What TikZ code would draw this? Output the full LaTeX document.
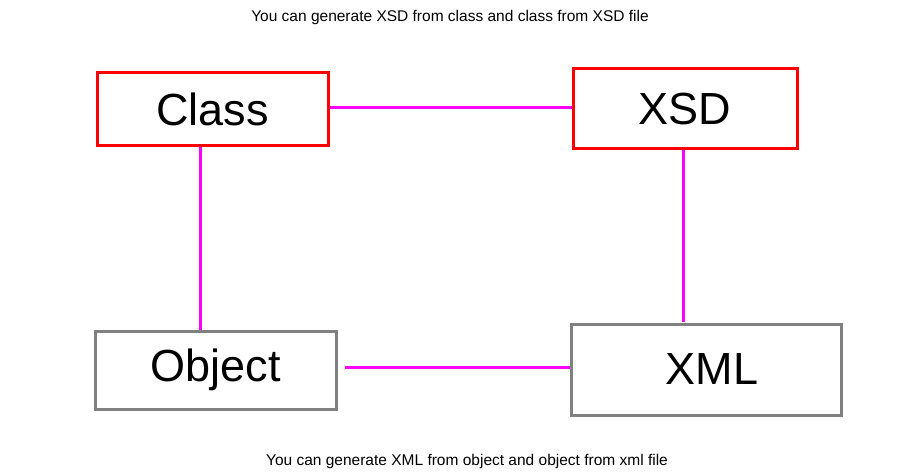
\documentclass[tikz,border=0pt]{standalone}
\usepackage{fontspec}
\setmainfont{Liberation Sans}
\definecolor{lnk}{RGB}{255,0,255}
\definecolor{redb}{RGB}{255,0,0}
\definecolor{grayb}{RGB}{128,128,128}
\begin{document}
\begin{tikzpicture}[x=1pt,y=-1pt,
  box/.style={draw,line width=3pt,inner sep=0pt,font=\fontsize{45}{45}\selectfont},
  redbox/.style={box,draw=redb},
  graybox/.style={box,draw=grayb},
  link/.style={draw=lnk,line width=3pt},
  captext/.style={font=\fontsize{15.5}{16}\selectfont}]
\useasboundingbox[fill=white] (0,0) rectangle (900,473);
\node[redbox,minimum width=231,minimum height=73] (cls) at (212.5,109.5) {Class};
\node[redbox,minimum width=224,minimum height=80] (xsd) at (685,109) {XSD};
\node[graybox,minimum width=241,minimum height=78] (obj) at (215.5,370) {Object};
\node[graybox,minimum width=270,minimum height=91] (xml) at (706,369.5) {\hspace*{12pt}XML};
\node[captext] (t1) at (450,17) {You can generate XSD from class and class from XSD file};
\node[captext] (t2) at (467,461) {You can generate XML from object and object from xml file};
\draw[link] (cls.east |- 0,108) -- (xsd.west |- 0,108);
\draw[link] (cls.south -| 200,0) -- (obj.north -| 200,0);
\draw[link] (xsd.south -| 683,0) -- (683,322);
\draw[link] (345,367) -- (xml.west |- 0,367);
\end{tikzpicture}
\end{document}
